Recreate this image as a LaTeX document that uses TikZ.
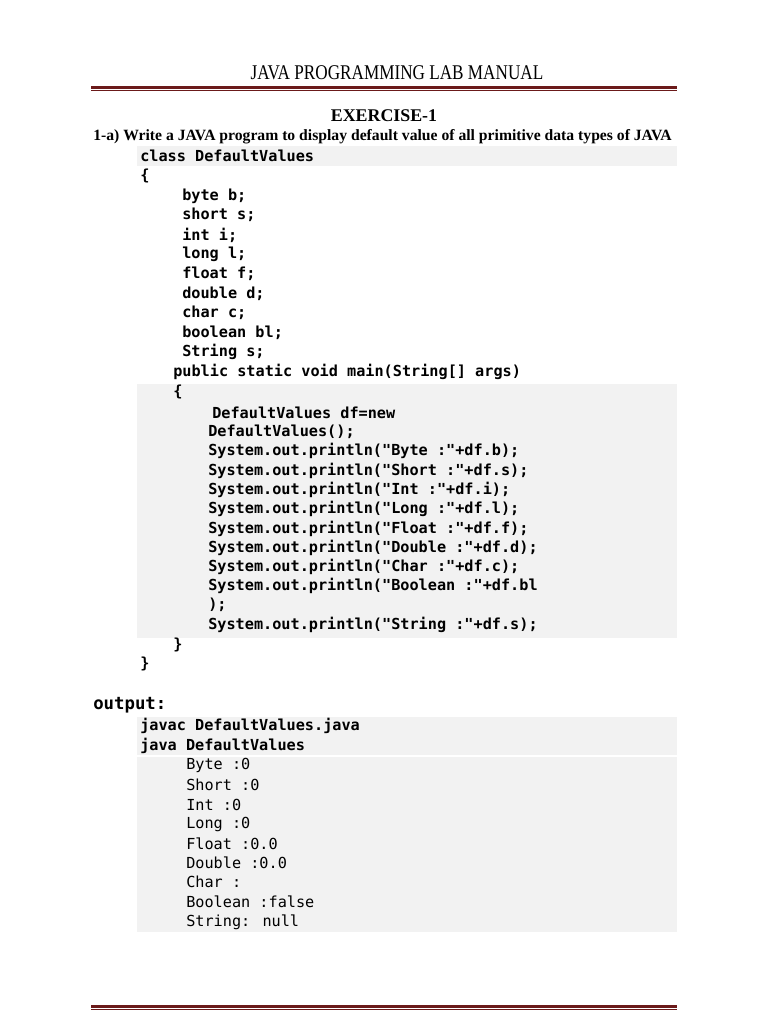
\documentclass[tikz,border=0pt]{standalone}
\usepackage{fontspec}
\setmainfont{Liberation Serif}
\newfontfamily\codef{DejaVu Sans Mono}
\definecolor{rulered}{HTML}{6B1A1A}
\definecolor{codebg}{HTML}{F2F2F2}
\begin{document}
\begin{tikzpicture}[x=0.75pt,y=-0.75pt,
  cb/.style={anchor=west,inner sep=0pt,font=\codef\bfseries\fontsize{11.4}{12}\selectfont},
  co/.style={anchor=west,inner sep=0pt,font=\codef\fontsize{11.4}{12}\selectfont}]
\useasboundingbox (0,0) rectangle (768,1024);
% header
\node[inner sep=0pt] (title) at (397,73) {\scalebox{0.82}[1]{\fontsize{15.7}{17}\selectfont JAVA PROGRAMMING LAB MANUAL}};
\fill[rulered] (91,86) rectangle (677,89);
\fill[rulered] (91,90.2) rectangle (677,91.4);
\fill[rulered] (91,1005) rectangle (677,1008);
\fill[rulered] (91,1009.2) rectangle (677,1010.4);
\node[inner sep=0pt,font=\bfseries\fontsize{13.4}{15}\selectfont] (ex) at (384,116) {EXERCISE-1};
\node[inner sep=0pt,anchor=west,font=\bfseries\fontsize{11.75}{13}\selectfont] (q) at (93,137) {1-a) Write a JAVA program to display default value of all primitive data types of JAVA};
% shading
\fill[codebg] (137,146) rectangle (677,166);
\fill[codebg] (137,384) rectangle (677,638);
\fill[codebg] (137,717) rectangle (677,755);
\fill[codebg] (137,757) rectangle (677,932);
% code
\node[cb] (c1) at (140,156) {class DefaultValues};
\node[cb] (c2) at (140,176) {\{};
\node[cb] (c3) at (182,196) {byte b;};
\node[cb] (c4) at (182,215) {short s;};
\node[cb] (c5) at (182,235) {int i;};
\node[cb] (c6) at (182,254) {long l;};
\node[cb] (c7) at (182,274) {float f;};
\node[cb] (c8) at (182,294) {double d;};
\node[cb] (c9) at (182,313) {char c;};
\node[cb] (c10) at (182,333) {boolean bl;};
\node[cb] (c11) at (182,352) {String s;};
\node[cb] (c12) at (173,372) {public static void main(String[] args)};
\node[cb] (c13) at (173,392) {\{};
\node[cb] (c14) at (212,413) {DefaultValues df=new};
\node[cb] (c15) at (208,432) {DefaultValues();};
\node[cb] (c16) at (208,451) {System.out.println("Byte :"+df.b);};
\node[cb] (c17) at (208,471) {System.out.println("Short :"+df.s);};
\node[cb] (c18) at (208,490) {System.out.println("Int :"+df.i);};
\node[cb] (c19) at (208,509) {System.out.println("Long :"+df.l);};
\node[cb] (c20) at (208,529) {System.out.println("Float :"+df.f);};
\node[cb] (c21) at (208,548) {System.out.println("Double :"+df.d);};
\node[cb] (c22) at (208,567) {System.out.println("Char :"+df.c);};
\node[cb] (c23) at (208,586) {System.out.println("Boolean :"+df.bl};
\node[cb] (c24) at (208,605) {);};
\node[cb] (c25) at (208,625) {System.out.println("String :"+df.s);};
\node[cb] (c26) at (173,645) {\}};
\node[cb] (c27) at (140,664) {\}};
% output
\node[anchor=west,inner sep=0pt,font=\codef\bfseries\fontsize{13}{14}\selectfont] (out) at (93,705) {output:};
\node[cb] (o1) at (140,726) {javac DefaultValues.java};
\node[cb] (o2) at (140,746) {java DefaultValues};
\node[co] (o3) at (186,765) {Byte :0};
\node[co] (o4) at (186,785) {Short :0};
\node[co] (o5) at (186,805) {Int :0};
\node[co] (o6) at (186,824) {Long :0};
\node[co] (o7) at (186,844) {Float :0.0};
\node[co] (o8) at (186,863) {Double :0.0};
\node[co] (o9) at (186,882) {Char :};
\node[co] (o10) at (186,902) {Boolean :false};
\node[co] (o11) at (186,922) {String: null};
\end{tikzpicture}
\end{document}
